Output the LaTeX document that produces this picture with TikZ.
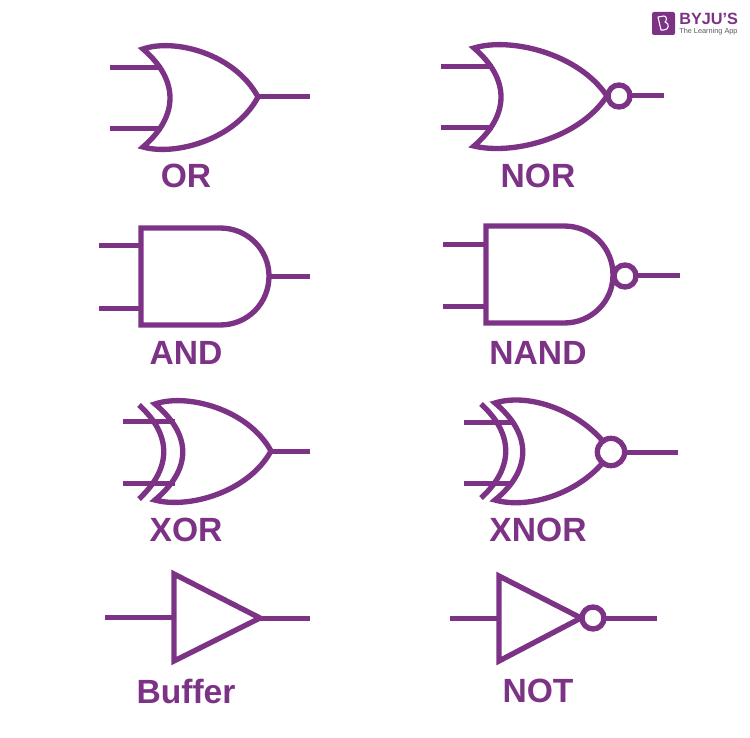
\documentclass[tikz,border=0pt]{standalone}
\usepackage{fontspec}
\setmainfont{Liberation Sans}
\usetikzlibrary{positioning}
\definecolor{gatepurple}{HTML}{7C3285}
\tikzset{
    gate/.style = {draw=gatepurple, line width=4pt, line join=miter, miter limit=10},
    wire/.style = {draw=gatepurple, line width=3.75pt},
    bubble/.style = {draw=gatepurple, line width=4pt, circle, fill=white, inner sep=0pt},
    gatelabel/.style = {text=gatepurple, font=\fontsize{25.2}{28}\selectfont\bfseries, inner sep=0pt, anchor=center}
}

\begin{document}
\begin{tikzpicture}[x=0.75pt, y=-0.75pt]
    \useasboundingbox (0,0) rectangle (750,738);

    % OR
    \coordinate (orA) at (110,67.5);
    \coordinate (orAend) at (162,67.5);
    \coordinate (orB) at (110,128.5);
    \coordinate (orBend) at (162,128.5);
    \coordinate (orTip) at (258,97);
    \coordinate (orOut) at (310,97);
    \draw[wire] (orA) -- (orAend);
    \draw[wire] (orB) -- (orBend);
    \draw[wire] (orTip) -- (orOut);
    \draw[gate] (143,49) .. controls (179,80) and (179,116) .. (143,147)
        .. controls (175,156) and (235,140) .. (orTip)
        .. controls (235,54) and (175,38) .. cycle;
    \node[gatelabel] (orLabel) at (186,176) {OR};

    % NOR
    \coordinate (norA) at (441,66.5);
    \coordinate (norAend) at (493,66.5);
    \coordinate (norB) at (441,127.5);
    \coordinate (norBend) at (493,127.5);
    \coordinate (norOut) at (664,96);
    \draw[wire] (norA) -- (norAend);
    \draw[wire] (norB) -- (norBend);
    \draw[wire] (619,96) -- (norOut);
    \draw[gate] (474,48) .. controls (510,79) and (510,115) .. (474,146)
        .. controls (510,155) and (578,140) .. (607,96)
        .. controls (578,53) and (510,37) .. cycle;
    \node[bubble, minimum size=16.5pt] (norBub) at (619,96) {};
    \node[gatelabel] (norLabel) at (538,176) {NOR};

    % AND
    \coordinate (andA) at (99,246);
    \coordinate (andAend) at (141,246);
    \coordinate (andB) at (99,308);
    \coordinate (andBend) at (141,308);
    \coordinate (andTip) at (269,276);
    \coordinate (andOut) at (310,276);
    \draw[wire] (andA) -- (andAend);
    \draw[wire] (andB) -- (andBend);
    \draw[wire] (andTip) -- (andOut);
    \draw[gate] (141,228) -- (220,228) .. controls (248,228) and (269,250) .. (andTip)
        .. controls (269,303) and (248,325) .. (220,325) -- (141,325) -- cycle;
    \node[gatelabel] (andLabel) at (186,353) {AND};

    % NAND
    \coordinate (nandA) at (443,245);
    \coordinate (nandAend) at (486,245);
    \coordinate (nandB) at (443,306);
    \coordinate (nandBend) at (486,306);
    \coordinate (nandOut) at (680,275);
    \draw[wire] (nandA) -- (nandAend);
    \draw[wire] (nandB) -- (nandBend);
    \draw[wire] (625,275) -- (nandOut);
    \draw[gate] (486,226) -- (564,226) .. controls (592,226) and (613,248) .. (613,275)
        .. controls (613,301) and (592,323) .. (564,323) -- (486,323) -- cycle;
    \node[bubble, minimum size=16.5pt] (nandBub) at (625,276) {};
    \node[gatelabel] (nandLabel) at (538,353) {NAND};

    % XOR
    \coordinate (xorA) at (123,421);
    \coordinate (xorAend) at (175,421);
    \coordinate (xorB) at (123,483);
    \coordinate (xorBend) at (175,483);
    \coordinate (xorTip) at (271,451);
    \coordinate (xorOut) at (310,451);
    \draw[wire] (xorA) -- (xorAend);
    \draw[wire] (xorB) -- (xorBend);
    \draw[wire] (xorTip) -- (xorOut);
    \draw[gate] (139,405) .. controls (172,435) and (172,468) .. (139,499);
    \draw[gate] (155,404) .. controls (192,435) and (192,469) .. (155,500)
        .. controls (187,509) and (248,493) .. (xorTip)
        .. controls (248,409) and (187,393) .. cycle;
    \node[gatelabel] (xorLabel) at (186,530) {XOR};

    % XNOR
    \coordinate (xnorA) at (464,422);
    \coordinate (xnorAend) at (513,422);
    \coordinate (xnorB) at (464,483);
    \coordinate (xnorBend) at (513,483);
    \coordinate (xnorOut) at (678,452);
    \draw[wire] (xnorA) -- (xnorAend);
    \draw[wire] (xnorB) -- (xnorBend);
    \draw[wire] (611,452) -- (xnorOut);
    \draw[gate] (481,404) .. controls (514,434) and (514,468) .. (481,498);
    \draw[gate] (495,403) .. controls (532,434) and (532,470) .. (495,500)
        .. controls (530,510) and (585,492) .. (611,452)
        .. controls (585,412) and (530,392) .. cycle;
    \node[bubble, minimum size=20.5pt] (xnorBub) at (611,452) {};
    \node[gatelabel] (xnorLabel) at (538,530) {XNOR};

    % Buffer
    \coordinate (bufIn) at (105,617.5);
    \coordinate (bufBack) at (174,617.5);
    \coordinate (bufTip) at (260,618);
    \coordinate (bufOut) at (310,618);
    \draw[wire] (bufIn) -- (bufBack);
    \draw[wire] (bufTip) -- (bufOut);
    \draw[gate] (174,574) -- (bufTip) -- (174,661) -- cycle;
    \node[gatelabel] (bufLabel) at (186,691) {Buffer};

    % NOT
    \coordinate (notIn) at (450,618);
    \coordinate (notBack) at (499,618);
    \coordinate (notOut) at (657,618);
    \draw[wire] (notIn) -- (notBack);
    \draw[wire] (593,618) -- (notOut);
    \draw[gate] (499,576) -- (581,618) -- (499,661) -- cycle;
    \node[bubble, minimum size=16.5pt] (notBub) at (593,618) {};
    \node[gatelabel] (notLabel) at (538,691) {NOT};

    % Logo
    \fill[gatepurple, rounded corners=1.5pt] (652,12) rectangle (675,35);
    \draw[white, line width=0.8pt, line join=round] (658,17) -- (664,16)
        .. controls (667,16) and (667,21) .. (665,22)
        .. controls (670,23) and (669,30) .. (664,30) -- (661,30) -- cycle;
    \node[text=gatepurple, font=\fontsize{12.2}{13}\selectfont\bfseries, inner sep=0pt, anchor=west] (logoName) at (679,19) {BYJU'S};
    \node[text=black!65, font=\fontsize{5.5}{6}\selectfont, inner sep=0pt, anchor=west] (logoSub) at (679,31.5) {The Learning App};
\end{tikzpicture}
\end{document}
